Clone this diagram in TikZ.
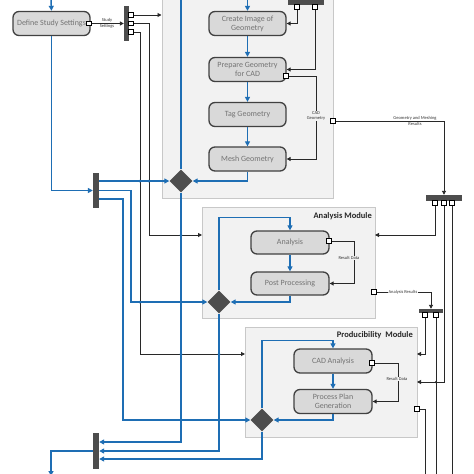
\documentclass[tikz,border=0pt]{standalone}
\usepackage{fontspec}
\setmainfont{Carlito}
\usetikzlibrary{arrows.meta,shapes.geometric,calc}
\definecolor{flowblue}{RGB}{30,110,180}
\definecolor{modfill}{RGB}{242,242,242}
\definecolor{modedge}{RGB}{200,200,200}
\definecolor{procfill}{RGB}{217,217,217}
\definecolor{procedge}{RGB}{65,65,65}
\definecolor{proctext}{RGB}{115,115,115}
\definecolor{bardark}{RGB}{77,77,77}
\definecolor{linedark}{RGB}{40,40,40}
\begin{document}
\begin{tikzpicture}[x=1pt,y=-1pt,
 modbox/.style={fill=modfill,draw=modedge,line width=1pt,inner sep=0pt},
 procbox/.style={rounded corners=6pt,draw=procedge,line width=1.3pt,fill=procfill,text=proctext,minimum width=77pt,minimum height=24pt,align=center,inner sep=1pt,font=\fontsize{8}{9}\selectfont},
 barnode/.style={fill=bardark,inner sep=0pt,draw=none},
 decision/.style={diamond,aspect=1,fill=bardark,inner sep=0pt,minimum width=23pt,minimum height=23pt},
 port/.style={rectangle,draw=black,fill=white,line width=0.8pt,minimum size=4.5pt,inner sep=0pt},
 bflow/.style={draw=flowblue,line width=1.5pt,-{Triangle[length=5pt,width=5pt]}},
 bline/.style={draw=flowblue,line width=1.5pt},
 kflow/.style={draw=linedark,line width=0.9pt,-{Triangle[length=4pt,width=4pt]}},
 kline/.style={draw=linedark,line width=0.9pt},
 smalllab/.style={font=\fontsize{4.5}{5}\selectfont,text=black!80,align=center,inner sep=0.5pt},
 modtitle/.style={font=\bfseries\fontsize{8.5}{10}\selectfont,text=black!85,inner sep=0pt},
 jdot/.style={circle,fill=flowblue,inner sep=0pt,minimum size=3pt}
]
\useasboundingbox (0,0) rectangle (474,474);
\clip (0,0) rectangle (474,474);
\fill[white] (0,0) rectangle (474,474);

% modules
\node[modbox,minimum width=171pt,minimum height=208pt] (designmod) at (247.5,94) {};
\node[modbox,minimum width=173pt,minimum height=111pt] (anamod) at (288.5,262.5) {};
\node[modbox,minimum width=172pt,minimum height=110pt] (prodmod) at (331,382) {};
\node[modtitle,anchor=east] (anatitle) at (372,216) {Analysis Module};
\node[modtitle,anchor=east] (prodtitle) at (413,335) {Producibility~~Module};

% processes
\node[procbox] (def) at (51.5,23.5) {Define Study Settings};
\node[procbox] (create) at (247.5,23.5) {Create Image of\\Geometry};
\node[procbox] (prep) at (247.5,69.5) {Prepare Geometry\\for CAD};
\node[procbox] (tag) at (247.5,114.5) {Tag Geometry};
\node[procbox] (mesh) at (247.5,159) {Mesh Geometry};
\node[procbox,minimum height=23pt,minimum width=78pt] (ana) at (290,242.5) {Analysis};
\node[procbox,minimum height=23pt,minimum width=78pt] (post) at (290,283.5) {Post Processing};
\node[procbox,minimum width=78pt] (cad) at (333,361) {CAD Analysis};
\node[procbox,minimum width=78pt] (proc) at (333,401.5) {Process Plan\\Generation};

% bars
\node[barnode,minimum width=6pt,minimum height=35pt] (bar1) at (96,190.5) {};
\node[barnode,minimum width=5pt,minimum height=35pt] (bar2) at (126.5,23.5) {};
\node[barnode,minimum width=36pt,minimum height=10pt] (topbar) at (305.5,0) {};
\node[barnode,minimum width=36pt,minimum height=6pt] (bar3) at (444,198) {};
\node[barnode,minimum width=24pt,minimum height=4pt] (bar4) at (431,311) {};
\node[barnode,minimum width=6pt,minimum height=36pt] (bar5) at (96,451) {};

% decisions
\node[decision] (dia1) at (181,181) {};
\node[decision] (dia2) at (219,302) {};
\node[decision] (dia3) at (262,420) {};

% ports
\node[port] (pdef) at (89,23.5) {};
\node[port] (s1) at (131,15) {};
\node[port] (s2) at (131,23.5) {};
\node[port] (s3) at (131,32) {};
\node[port] (t1) at (297,7) {};
\node[port] (t2) at (315,7) {};
\node[port] (pprep) at (286,76) {};
\node[port] (pcadg) at (333,121) {};
\node[port] (pana) at (329,241) {};
\node[port] (panamod) at (374,292) {};
\node[port] (g1) at (435,203) {};
\node[port] (g2) at (444,203) {};
\node[port] (g3) at (452,203) {};
\node[port] (r1) at (425,315) {};
\node[port] (r2) at (436,315) {};
\node[port] (pcad) at (372,363) {};
\node[port] (pprod) at (417,409) {};

% free ends
\coordinate (inA) at (51,0);
\coordinate (inB) at (181,0);
\coordinate (inC) at (247.5,0);
\coordinate (outA) at (51,476);
\coordinate (outB) at (436,476);
\coordinate (outC) at (452,476);
\coordinate (outD) at (425,476);
\coordinate (anaL) at (202,235);
\coordinate (anaR) at (375,235);
\coordinate (prodL) at (245,354);
\coordinate (prodR1) at (417,354);
\coordinate (prodR2) at (417,382);

% black connectors
\draw[kflow] (pdef.east) -- (bar2.west |- pdef.east);
\draw[kflow] (s1.east) -- (s1.east -| designmod.west);
\draw[kflow] (s2.east) -- ++(16,0) |- (anaL);
\draw[kflow] (s3.east) -- ++(7,0) |- (prodL);
\draw[kflow] (t1.south) |- (create.east);
\draw[kflow] (t2.south) |- (prep.east);
\draw[kflow] (pprep.east) -- ++(28,0) |- (mesh.east);
\draw[kflow] (pcadg.east) -| (bar3.north);
\draw[kflow] (g1.south) |- (anaR);
\draw[kflow] (g2.south) |- (prodR2);
\draw[kline] (g3.south) -- (outC);
\draw[kflow] (pana.east) -- ++(23,0) |- (post.east);
\draw[kflow] (panamod.east) -| (bar4.north);
\draw[kflow] (r1.south) |- (prodR1);
\draw[kline] (r2.south) -- (outB);
\draw[kflow] (pcad.east) -- ++(24,0) |- (proc.east);
\draw[kline] (pprod.east) -| (outD);

% blue connectors
\draw[bflow] (inA) -- (def.north);
\draw[bflow] (def.south) |- (bar1.west);
\draw[bflow] (bar1.east |- dia1.west) -- (dia1.west);
\draw[bflow] (bar1.east) -- ++(32,0) |- (dia2.west);
\draw[bflow] ($(bar1.east)+(0,8.5)$) -- ++(24,0) |- (dia3.west);
\draw[bline] (inB) -- (dia1.north);
\draw[bflow] (dia1.south) |- ($(bar5.east)+(0,-9)$);
\draw[bflow] (dia2.south) |- (bar5.east);
\draw[bflow] (dia3.south) |- ($(bar5.east)+(0,8)$);
\draw[bflow] (bar5.west) -| (outA);
\draw[bflow] (inC) -- (create.north);
\draw[bflow] (create) -- (prep);
\draw[bflow] (prep) -- (tag);
\draw[bflow] (tag) -- (mesh);
\draw[bflow] (mesh.south) |- (dia1.east);
\draw[bflow] (dia2.north) |- ($(ana.north)+(0,-13)$) -- (ana.north);
\draw[bflow] (ana) -- (post);
\draw[bflow] (post.south) |- (dia2.east);
\draw[bflow] (dia3.north) |- ($(cad.north)+(0,-8)$) -- (cad.north);
\draw[bflow] (cad) -- (proc);
\draw[bflow] (proc.south) |- (dia3.east);

% labels
\node[smalllab,anchor=south] (lStudyA) at (107,23) {Study};
\node[smalllab,anchor=north] (lStudyB) at (107,24) {Settings};
\node[smalllab,fill=modfill] (lCadG) at (316,116) {CAD\\Geometry};
\node[smalllab,anchor=south] (lGeoA) at (415,120.5) {Geometry and Meshing};
\node[smalllab,anchor=north] (lGeoB) at (415,121.5) {Results};
\node[smalllab,fill=modfill] (lRes1) at (349,258) {Result Data};
\node[smalllab,fill=white] (lAnaRes) at (403,292) {Analysis Results};
\node[smalllab,fill=modfill] (lRes2) at (397,379) {Result Data};

% junction dots
\foreach \p in {(140,181),(149,181),(181,235),(181,302),(140,302),(181,354),(219,354),(181,420),(219,420)}
  \node[jdot] at \p {};
\node[jdot,fill=linedark,minimum size=2.5pt] at (436,382) {};
\end{tikzpicture}
\end{document}
